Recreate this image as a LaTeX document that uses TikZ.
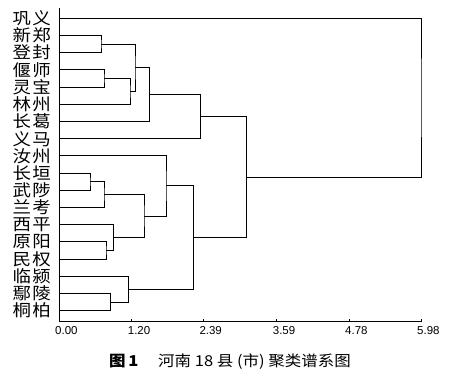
\documentclass[tikz,border=0pt]{standalone}
\usepackage{fontspec}
\setmainfont{Liberation Sans}
\newfontfamily\cjk{Noto Sans CJK SC}
\usetikzlibrary{calc}

\tikzset{
  leaf/.style={anchor=east, inner sep=0pt, xscale=1.12,
               font=\cjk\fontsize{16.5}{16.5}\selectfont},
  ticklabel/.style={anchor=west, inner sep=0pt, font=\fontsize{11.5}{12}\selectfont},
  link/.style={line width=1pt},
}

\begin{document}
\begin{tikzpicture}[x=1pt, y=-1pt]
    \useasboundingbox (0,0) rectangle (474,382);

    % Leaves: label, then the point on the axis
    \node[leaf] (n1)  at (51,18.3)  {巩\kern1pt义};  \coordinate (l1)  at (59,18.3);
    \node[leaf] (n2)  at (51,35.5)  {新\kern1pt郑};  \coordinate (l2)  at (59,35.5);
    \node[leaf] (n3)  at (51,52.7)  {登\kern1pt封};  \coordinate (l3)  at (59,52.7);
    \node[leaf] (n4)  at (51,69.9)  {偃\kern1pt师};  \coordinate (l4)  at (59,69.9);
    \node[leaf] (n5)  at (51,87.1)  {灵\kern1pt宝};  \coordinate (l5)  at (59,87.1);
    \node[leaf] (n6)  at (51,104.3) {林\kern1pt州};  \coordinate (l6)  at (59,104.3);
    \node[leaf] (n7)  at (51,121.5) {长\kern1pt葛};  \coordinate (l7)  at (59,121.5);
    \node[leaf] (n8)  at (51,138.7) {义\kern1pt马};  \coordinate (l8)  at (59,138.7);
    \node[leaf] (n9)  at (51,155.9) {汝\kern1pt州};  \coordinate (l9)  at (59,155.9);
    \node[leaf] (n10) at (51,173.1) {长\kern1pt垣};  \coordinate (l10) at (59,173.1);
    \node[leaf] (n11) at (51,190.3) {武\kern1pt陟};  \coordinate (l11) at (59,190.3);
    \node[leaf] (n12) at (51,207.5) {兰\kern1pt考};  \coordinate (l12) at (59,207.5);
    \node[leaf] (n13) at (51,224.7) {西\kern1pt平};  \coordinate (l13) at (59,224.7);
    \node[leaf] (n14) at (51,241.9) {原\kern1pt阳};  \coordinate (l14) at (59,241.9);
    \node[leaf] (n15) at (51,259.1) {民\kern1pt权};  \coordinate (l15) at (59,259.1);
    \node[leaf] (n16) at (51,276.3) {临\kern1pt颍};  \coordinate (l16) at (59,276.3);
    \node[leaf] (n17) at (51,293.5) {鄢\kern1pt陵};  \coordinate (l17) at (59,293.5);
    \node[leaf] (n18) at (51,310.7) {桐\kern1pt柏};  \coordinate (l18) at (59,310.7);

    % Merge points (x = level, y = middle of the two children)
    \coordinate (m1)  at (101,44.1);
    \coordinate (m2)  at (104,78.5);
    \coordinate (m3)  at (130,91.4);
    \coordinate (m4)  at (135,67.75);
    \coordinate (m5)  at (149.3,94.6);
    \coordinate (m6)  at (200.7,116.65);
    \coordinate (m7)  at (90,181.7);
    \coordinate (m8)  at (104,194.6);
    \coordinate (m9)  at (106,250.5);
    \coordinate (m10) at (113.3,237.6);
    \coordinate (m11) at (144,216.1);
    \coordinate (m12) at (166,186);
    \coordinate (m13) at (110.7,302.1);
    \coordinate (m14) at (128.3,289.2);
    \coordinate (m15) at (193.3,237.6);
    \coordinate (m16) at (246.7,177.1);
    \coordinate (m17) at (421,97.7);

    % Branches
    \draw[link] (l2) -| (m1) |- (l3);
    \draw[link] (l4) -| (m2) |- (l5);
    \draw[link] (m2) -| (m3) |- (l6);
    \draw[link] (m1) -| (m4) |- (m3);
    \draw[link] (m4) -| (m5) |- (l7);
    \draw[link] (m5) -| (m6) |- (l8);
    \draw[link] (l10) -| (m7) |- (l11);
    \draw[link] (m7) -| (m8) |- (l12);
    \draw[link] (l14) -| (m9) |- (l15);
    \draw[link] (l13) -| (m10) |- (m9);
    \draw[link] (m8) -| (m11) |- (m10);
    \draw[link] (l9) -| (m12) |- (m11);
    \draw[link] (l17) -| (m13) |- (l18);
    \draw[link] (l16) -| (m14) |- (m13);
    \draw[link] (m12) -| (m15) |- (m14);
    \draw[link] (m6) -| (m16) |- (m15);
    \draw[link] (l1) -| (m17) |- (m16);

    % Axis
    \coordinate (top) at (59,8);
    \coordinate (o) at (59,321.7);
    \coordinate (end) at (421,321.7);
    \draw[link] (top) -- (o) -- (end);
    \draw[link] (131.7,321.7) -- ++(0,-3) (203.3,321.7) -- ++(0,-3)
                (276.7,321.7) -- ++(0,-3) (349,321.7) -- ++(0,-3)
                (421,321.7) -- ++(0,-3);
    \node[ticklabel] (t0) at (55,331) {0.00};
    \node[ticklabel] (t1) at (127.7,331) {1.20};
    \node[ticklabel] (t2) at (199.3,331) {2.39};
    \node[ticklabel] (t3) at (272.7,331) {3.59};
    \node[ticklabel] (t4) at (345,331) {4.78};
    \node[ticklabel] (t5) at (417,331) {5.98};

    % Caption
    \node[font=\cjk\fontsize{15}{15}\selectfont, inner sep=0pt, xscale=1.1] (cap) at (230,362)
        {{\bfseries 图\,1}\hspace{1.2em}河南 18 县 (市) 聚类谱系图};
\end{tikzpicture}
\end{document}
